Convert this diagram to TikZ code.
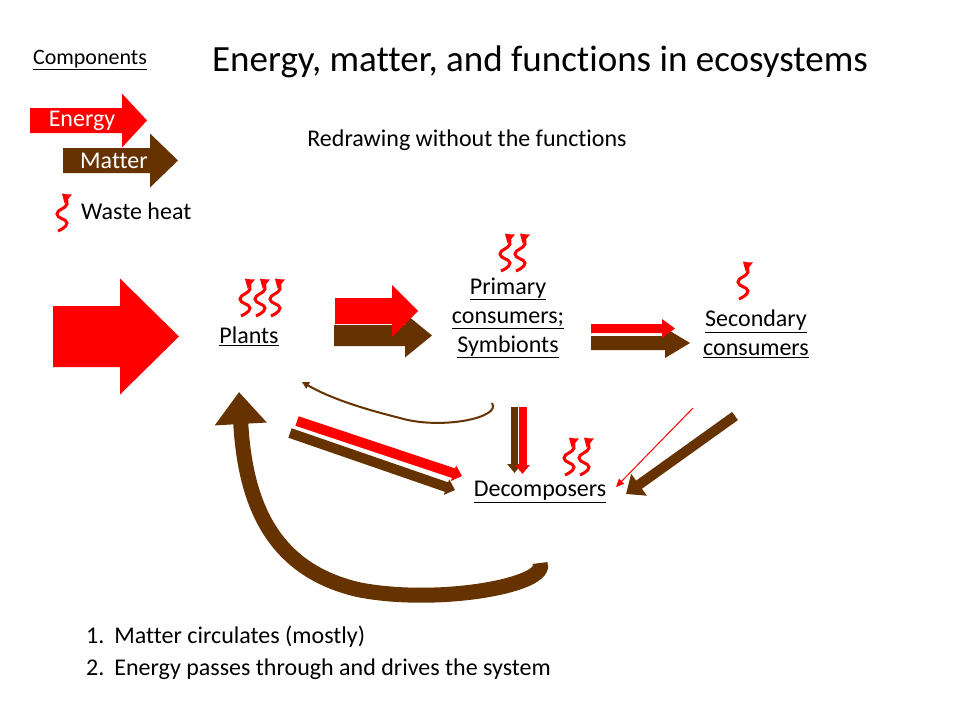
\documentclass[tikz,border=0pt]{standalone}
\usepackage{fontspec}
\setmainfont{Carlito}[Ligatures=NoCommon]
\usetikzlibrary{arrows.meta}
\definecolor{eng}{RGB}{255,0,0}
\definecolor{mat}{RGB}{102,51,0}
\begin{document}
\begin{tikzpicture}[x=1pt,y=-1pt,
  lbl/.style={font=\fontsize{24}{28}\selectfont,align=center,inner sep=1pt},
  ul/.style={lbl},
  heat/.pic={\draw[eng,line width=3pt,-{Triangle[length=8pt,width=11pt]}]
     plot[smooth,tension=0.9] coordinates {(-2,0)(7,-8)(-3,-17)(7,-27)(2,-37)};}]
\useasboundingbox (0,0) rectangle (960,720);
% block arrow: #1 colour, x0, x1 (body end), x2 (tip), ymid, half body, half head
\newcommand\blockarr[7]{\fill[#1] (#2,#5-#6) -- (#3,#5-#6) -- (#3,#5-#7) -- (#4,#5) -- (#3,#5+#7) -- (#3,#5+#6) -- (#2,#5+#6) -- cycle;}

% title and legend
\node[lbl,font=\fontsize{37}{42}\selectfont] (title) at (540,62) {Energy, matter, and functions in ecosystems};
\node[lbl,font=\fontsize{22}{26}\selectfont] (comp) at (90,60) {\underline{Components}};
\blockarr{eng}{30}{122}{147}{120.5}{12.5}{27}
\node[lbl,text=white] (leng) at (82,121) {Energy};
\blockarr{mat}{63}{150}{178}{160.5}{12.5}{27}
\node[lbl,text=white] (lmat) at (114,161) {Matter};
\pic at (60,231) {heat};
\node[lbl,anchor=west] (lheat) at (80,211) {Waste heat};
\node[lbl] (sub) at (467,140) {Redrawing without the functions};

% big energy input
\blockarr{eng}{53}{120}{179}{336.5}{30.5}{58}

% nodes
\node[ul] (plants) at (249,336) {\underline{Plants}};
\node[ul] (prim) at (508,318) {\underline{Primary}\\[1pt]\underline{consumers;}\\[1pt]\underline{Symbionts}};
\node[ul] (sec) at (756,334) {\underline{Secondary}\\[1pt]\underline{consumers}};
\node[ul] (dec) at (540,492) {\underline{Decomposers}};

% waste heat
\pic at (243,316) {heat};
\pic at (258,316) {heat};
\pic at (273,316) {heat};
\pic at (503,271) {heat};
\pic at (518,271) {heat};
\pic at (741,299) {heat};
\pic at (567,475) {heat};
\pic at (582,475) {heat};

% plants -> primary
\blockarr{mat}{334}{405}{432}{335.5}{10.5}{22}
\blockarr{eng}{335}{392}{418}{311}{13}{26}
% primary -> secondary
\blockarr{mat}{591}{665}{690}{343}{7}{15}
\blockarr{eng}{591}{662}{675}{328.5}{4.5}{9.5}

% primary -> decomposers
\draw[mat,line width=7pt,-{Triangle[length=9pt,width=14pt]}] (514.5,407) -- (514.5,473);
\draw[eng,line width=8pt,-{Triangle[length=9pt,width=14pt]}] (522.5,407) -- (522.5,474);
% primary -> plants (thin)
\draw[mat,line width=2pt,-{Triangle[length=7pt,width=7pt]}] (492,403) .. controls (502,418) and (440,430) .. (400,418) .. controls (360,408) and (330,398) .. (302,382);
% plants -> decomposers
\draw[eng,line width=10pt,-{Triangle[length=9pt,width=16pt]}] (297,421) -- (462,476);
\draw[mat,line width=10pt,-{Triangle[length=9pt,width=16pt]}] (290,433) -- (455,490);
% secondary -> decomposers
\draw[eng,line width=1pt,-{Triangle[length=8pt,width=7pt]}] (693,408) -- (616,487);
\draw[mat,line width=10pt,-{Triangle[length=16pt,width=26pt]}] (735,416) -- (626,494);
% decomposers -> plants (recycling)
\draw[mat,line width=15pt,-{Triangle[length=32pt,width=50pt]}] (540,563) .. controls (550,585) and (440,605) .. (360,590) .. controls (270,570) and (245,500) .. (239,392);

% notes
\node[lbl,anchor=west] (n1) at (85,637) {1.\hspace{10pt}Matter circulates (mostly)};
\node[lbl,anchor=west] (n2) at (85,669) {2.\hspace{10pt}Energy passes through and drives the system};
\end{tikzpicture}
\end{document}
